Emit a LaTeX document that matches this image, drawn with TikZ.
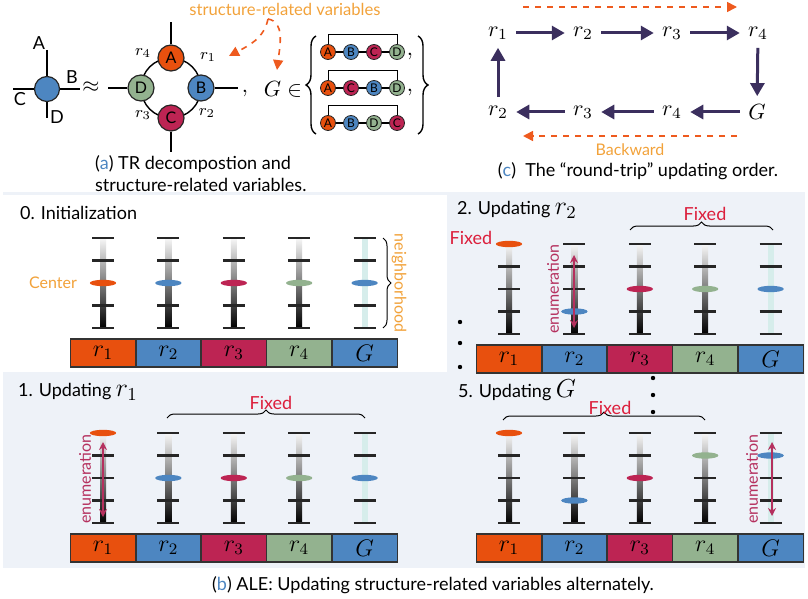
\RequirePackage{fix-cm}
\documentclass[tikz,border=0pt]{standalone}
\usepackage{fontspec}
\setmainfont{Lato}
\usetikzlibrary{arrows.meta,decorations.pathreplacing,positioning}

\definecolor{cOr}{HTML}{E8500E}
\definecolor{cBl}{HTML}{4D86C1}
\definecolor{cMg}{HTML}{BD2453}
\definecolor{cGn}{HTML}{93B28F}
\definecolor{cCy}{HTML}{D6EDEB}
\definecolor{cFix}{HTML}{DC1F3C}
\definecolor{cEnum}{HTML}{B5305E}
\definecolor{cAmb}{HTML}{F2A23A}
\definecolor{cDash}{HTML}{EE5A1E}
\definecolor{cPur}{HTML}{3B2F5E}
\definecolor{cBg}{HTML}{EEF2F8}
\colorlet{colA}{cOr}
\colorlet{colB}{cBl}
\colorlet{colC}{cMg}
\colorlet{colD}{cGn}

\tikzset{
  rung/.style={line width=1.1pt, black!85},
  grad/.style={top color=black!3, middle color=black!45, bottom color=black},
  gbar/.style={fill=cCy},
  cell/.style={draw=black!80, line width=0.8pt, minimum width=32.7pt, minimum height=14pt,
    inner sep=0pt, font=\fontsize{12}{13}\selectfont},
  ball/.style={circle, draw=black!85, line width=0.6pt, minimum size=13pt, inner sep=0pt,
    font=\fontsize{8}{9}\selectfont},
  bead/.style={circle, draw=black!85, line width=0.4pt, minimum size=7.5pt, inner sep=0pt,
    font=\fontsize{6}{7}\selectfont},
  leg/.style={line width=0.7pt},
  rlab/.style={font=\fontsize{8}{9}\selectfont, inner sep=0pt},
  trn/.style={font=\fontsize{11}{12}\selectfont, inner sep=4pt},
  trip/.style={cPur, line width=1.5pt, -{Triangle[length=6.5pt, width=7pt]}},
  dasharr/.style={cDash, dashed, line width=0.8pt, -{Triangle[length=5pt, width=5pt]}},
  fixbrace/.style={decorate, decoration={brace, amplitude=4pt}, line width=0.5pt},
  setbrace/.style={decorate, decoration={brace, amplitude=5pt}, line width=0.7pt},
  enumarr/.style={cEnum, line width=1.1pt, {Stealth[length=4pt, width=4pt]}-{Stealth[length=4pt, width=4pt]}},
  hdr/.style={anchor=west, font=\fontsize{9}{11}\selectfont},
  fixed/.style={cFix, font=\fontsize{9}{11}\selectfont},
  small/.style={font=\fontsize{8}{9}\selectfont},
  capt/.style={font=\fontsize{9}{11}\selectfont},
}

% one ladder: x, colour, level of the ellipse, bar style
\newcommand{\ladder}[4]{%
  \path[#4] (#1-3,238) rectangle (#1+3,328);
  \foreach \k in {0,...,4} {
    \ifnum\k=#3\relax\else
      \draw[rung] (#1-11,238+22.5*\k) -- (#1+11,238+22.5*\k);
    \fi
  }
  \fill[#2] (#1,238+22.5*#3) ellipse [x radius=6.6pt, y radius=1.6pt];
}

% one stage: name, dx, dy, levels of r1 r2 r3 r4 G
\newcommand{\stage}[8]{%
  \begin{scope}[shift={(#2,#3)}]
    \ladder{103}{cOr}{#4}{grad}
    \ladder{168.4}{cBl}{#5}{grad}
    \ladder{233.8}{cMg}{#6}{grad}
    \ladder{299.2}{cGn}{#7}{grad}
    \ladder{364.6}{cBl}{#8}{gbar}
    \foreach \lab/\col [count=\i from 0] in {r_1/cOr, r_2/cBl, r_3/cMg, r_4/cGn, G/cBl}
      \node[cell, fill=\col] (#1c\i) at ({103+65.4*\i},353) {$\lab$};
  \end{scope}}

\begin{document}
\begin{tikzpicture}[x=0.5pt, y=-0.5pt]
\useasboundingbox (0,0) rectangle (808,599);

% Backgrounds of (b)
\fill[cBg] (3,192) rectangle (805,568);
\fill[white] (3,195) rectangle (447,372);

% (a) single tensor
\coordinate (Ta) at (47,50);
\coordinate (Tb) at (80,89);
\coordinate (Tc) at (13,89);
\coordinate (Td) at (47,118);
\draw[leg] (Ta) -- (Td) (Tc) -- (Tb);
\node[circle, fill=cBl, draw=black!85, line width=0.6pt, minimum size=12.5pt] (T) at (47,89) {};
\node[capt] (La) at (39,43) {A};
\node[capt] (Lb) at (72,77) {B};
\node[capt] (Lc) at (20,99) {C};
\node[capt] (Ld) at (57,117) {D};
\node[font=\fontsize{11}{12}\selectfont] (approx) at (91,87) {$\approx$};

% (a) tensor ring
\draw[leg] (171,88) circle [radius=15pt];
\foreach \n/\col/\p in {A/cOr/{(171,58)}, B/cBl/{(201,88)}, C/cMg/{(171,118)}, D/cGn/{(141,88)}}
  \node[ball, fill=\col] (R\n) at \p {\n};
\coordinate (RAo) at (171,22);
\coordinate (RBo) at (238,88);
\coordinate (RCo) at (171,152);
\coordinate (RDo) at (108,88);
\foreach \n in {A,B,C,D}
  \draw[leg] (R\n) -- (R\n o);
\node[rlab] (q4) at (143,53) {$r_4$};
\node[rlab] (q1) at (208,57) {$r_1$};
\node[rlab] (q3) at (143,115) {$r_3$};
\node[rlab] (q2) at (207,113) {$r_2$};
\node[font=\fontsize{11}{12}\selectfont] (cm0) at (245,93) {$,$};
\node[font=\fontsize{11}{12}\selectfont] (Gin) at (283,89) {$G\in$};

% (a) structures
\draw[setbrace] (316,134) -- (316,36);
\draw[setbrace] (418,36) -- (418,134);
\foreach \y/\a/\b/\c/\d [count=\j] in {52/A/B/C/D, 88/A/C/B/D, 123/A/B/D/C} {
  \node[bead, fill=col\a] (g\j1) at (328,\y) {\a};
  \node[bead, fill=col\b] (g\j2) at (351,\y) {\b};
  \node[bead, fill=col\c] (g\j3) at (374,\y) {\c};
  \node[bead, fill=col\d] (g\j4) at (397,\y) {\d};
  \draw[leg] (g\j1) -- (g\j2) (g\j2) -- (g\j3) (g\j3) -- (g\j4);
  \draw[line width=0.5pt] (g\j1.north) -- ++(0,-9.5) -| (g\j4.north);
}
\node[font=\fontsize{11}{12}\selectfont] (cm1) at (410,56) {$,$};
\node[font=\fontsize{11}{12}\selectfont] (cm2) at (410,92) {$,$};

% (a) pointers
\node[font=\fontsize{8.3}{9}\selectfont, cAmb] (srv) at (285,9) {structure-related variables};
\coordinate (srvS) at (268,19);
\coordinate (tipA) at (229,56);
\coordinate (tipG) at (277,70);
\draw[dasharr] (srvS) .. controls (264,38) and (250,45) .. (tipA);
\draw[dasharr] (srvS) .. controls (285,22) and (280,45) .. (tipG);
\node[capt, anchor=north west, align=left] (capA) at (88,148)
  {(\textcolor{cBl}{a}) TR decompostion and\\structure-related variables.};

% (c) round trip
\foreach \n/\lab/\x in {t1/r_1/498, t2/r_2/583, t3/r_3/672, t4/r_4/758}
  \node[trn] (\n) at (\x,33) {$\lab$};
\foreach \n/\lab/\x in {b2/r_2/498, b3/r_3/583, b4/r_4/672, bG/G/757}
  \node[trn] (\n) at (\x,112) {$\lab$};
\draw[trip] (t1) -- (t2);
\draw[trip] (t2) -- (t3);
\draw[trip] (t3) -- (t4);
\draw[trip] (t4) -- (bG);
\draw[trip] (bG) -- (b4);
\draw[trip] (b4) -- (b3);
\draw[trip] (b3) -- (b2);
\draw[trip] (b2) -- (t1);
\coordinate (fw1) at (523,7);
\coordinate (fw2) at (737,7);
\coordinate (bw1) at (737,136);
\coordinate (bw2) at (523,136);
\draw[dasharr] (fw1) -- (fw2);
\draw[dasharr] (bw1) -- (bw2);
\node[cAmb, font=\fontsize{8}{9}\selectfont] (bwd) at (630,150) {Backward};
\node[capt] (capC) at (638,171) {(\textcolor{cBl}{c})~ The “round-trip” updating order.};

% (b) stages
\stage{s0}{0}{0}{2}{2}{2}{2}{2}
\stage{s2}{406}{6}{0}{3}{2}{2}{2}
\stage{s1}{0}{195}{0}{2}{2}{2}{2}
\stage{s5}{406}{195}{0}{3}{2}{1}{1}

% 0. Initialization
\node[hdr] (h0) at (13,213) {0. Initialization};
\node[small, cAmb, anchor=east] (ctr) at (84,283) {Center};
\draw[fixbrace] (383,238) -- (383,328);
\node[small, cAmb, rotate=-90] (nbh) at (399,283) {neighborhood};

% 1. Updating r1
\node[hdr] (h1) at (11,392) {1. Updating {\fontsize{13}{14}\selectfont$r_1$}};
\draw[fixbrace] (167,418) -- (365,418);
\node[fixed] (f1) at (271,403) {Fixed};
\coordinate (e1a) at (103,442);
\coordinate (e1b) at (103,517);
\draw[enumarr] (e1a) -- (e1b);
\node[small, cEnum, rotate=90] (n1) at (85,479) {enumeration};

% 2. Updating r2
\node[hdr] (h2) at (450,210) {2. Updating {\fontsize{13}{14}\selectfont$r_2$}};
\node[fixed] (f2a) at (471,238) {Fixed};
\draw[fixbrace] (630,230) -- (773,230);
\node[fixed] (f2) at (705,214) {Fixed};
\coordinate (e2a) at (574,255);
\coordinate (e2b) at (574,328);
\draw[enumarr] (e2a) -- (e2b);
\node[small, cEnum, rotate=90] (n2) at (553,289) {enumeration};
\foreach \y in {322,343,367}
  \fill (460,\y) circle [radius=1.1pt];

% 5. Updating G
\node[hdr] (h5) at (451,390) {5. Updating {\fontsize{13}{14}\selectfont$G$}};
\draw[fixbrace] (503,420) -- (705,420);
\node[fixed] (f5) at (610,408) {Fixed};
\coordinate (e5a) at (772,442);
\coordinate (e5b) at (772,516);
\draw[enumarr] (e5a) -- (e5b);
\node[small, cEnum, rotate=90] (n5) at (752,479) {enumeration};
\foreach \y in {378,395,412}
  \fill (653,\y) circle [radius=1.1pt];

% caption (b)
\node[capt] (capB) at (433,585) {(\textcolor{cBl}{b}) ALE: Updating structure-related variables alternately.};
\end{tikzpicture}
\end{document}
